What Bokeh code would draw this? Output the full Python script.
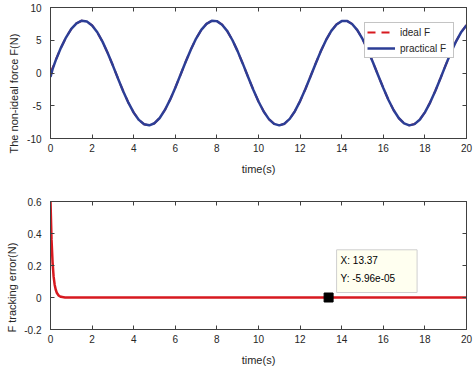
from bokeh.plotting import figure
from bokeh.layouts import column
from bokeh.models import (Range1d, FixedTicker, LinearAxis, Legend, LegendItem,
                          Label, CustomJSTickFormatter, Title)
from bokeh.embed import file_html
from bokeh.resources import INLINE

# ---------------- data ----------------
t = [0, 0.1, 0.25, 0.5, 0.75, 1, 1.25, 1.5, 1.75, 2, 2.25, 2.5, 2.75, 3, 3.25, 3.5, 3.75,
     4, 4.25, 4.5, 4.75, 5, 5.25, 5.5, 5.75, 6, 6.25, 6.5, 6.75, 7, 7.25, 7.5, 7.75,
     8, 8.25, 8.5, 8.75, 9, 9.25, 9.5, 9.75, 10, 10.25, 10.5, 10.75, 11, 11.25, 11.5, 11.75,
     12, 12.25, 12.5, 12.75, 13, 13.25, 13.5, 13.75, 14, 14.25, 14.5, 14.75, 15, 15.25, 15.5, 15.75,
     16, 16.25, 16.5, 16.75, 17, 17.25, 17.5, 17.75, 18, 18.25, 18.5, 18.75, 19, 19.25, 19.5, 19.75, 20]
ideal_F = [0, 0.80, 1.98, 3.84, 5.45, 6.73, 7.59, 7.98, 7.87, 7.27, 6.22, 4.79, 3.05, 1.13, -0.87, -2.81, -4.57,
           -6.05, -7.16, -7.82, -7.99, -7.67, -6.87, -5.64, -4.07, -2.24, -0.27, 1.72, 3.60, 5.26, 6.58, 7.50, 7.96,
           7.92, 7.38, 6.39, 5.00, 3.30, 1.39, -0.60, -2.56, -4.35, -5.88, -7.04, -7.76, -8.00, -7.74, -7.00, -5.83,
           -4.29, -2.49, -0.53, 1.46, 3.36, 5.05, 6.43, 7.41, 7.92, 7.95, 7.48, 6.54, 5.20, 3.54, 1.65, -0.34,
           -2.30, -4.13, -5.69, -6.91, -7.69, -8.00, -7.80, -7.13, -6.01, -4.51, -2.74, -0.80, 1.20, 3.12, 4.84, 6.27, 7.30]
practical_F = [-0.60, 0.58, 1.93, 3.84, 5.45, 6.73, 7.59, 7.98, 7.87, 7.27, 6.22, 4.79, 3.05, 1.13, -0.87, -2.81, -4.57,
               -6.05, -7.16, -7.82, -7.99, -7.67, -6.87, -5.64, -4.07, -2.24, -0.27, 1.72, 3.60, 5.26, 6.58, 7.50, 7.96,
               7.92, 7.38, 6.39, 5.00, 3.30, 1.39, -0.60, -2.56, -4.35, -5.88, -7.04, -7.76, -8.00, -7.74, -7.00, -5.83,
               -4.29, -2.49, -0.53, 1.46, 3.36, 5.05, 6.43, 7.41, 7.92, 7.95, 7.48, 6.54, 5.20, 3.54, 1.65, -0.34,
               -2.30, -4.13, -5.69, -6.91, -7.69, -8.00, -7.80, -7.13, -6.01, -4.51, -2.74, -0.80, 1.20, 3.12, 4.84, 6.27, 7.30]

t_err = [0, 0.05, 0.1, 0.15, 0.2, 0.25, 0.3, 0.4, 0.5, 0.7, 1.0, 20]
err = [0.6, 0.36, 0.22, 0.13, 0.08, 0.05, 0.03, 0.011, 0.004, 0.0005, 0.0, 0.0]

tip_x = 13.37
tip_y = -5.96e-05
tip_text = "X: 13.37\nY: -5.96e-05"

x_ticks = [0, 2, 4, 6, 8, 10, 12, 14, 16, 18, 20]
x_tick_labels = ["0", "2", "4", "6", "8", "10", "12", "14", "16", "18", "20"]
y1_ticks = [-10, -5, 0, 5, 10]
y1_tick_labels = ["-10", "-5", "0", "5", "10"]
y2_ticks = [-0.2, 0, 0.2, 0.4, 0.6]
y2_tick_labels = ["-0.2", "0", "0.2", "0.4", "0.6"]

x_label = "time(s)"
y1_label = "The non-ideal force F(N)"
y2_label = "F tracking error(N)"
legend_labels = ["ideal F", "practical F"]

# ---------------- styling ----------------
FONT = "Liberation Sans"
TXT = "#262626"
AX = "#404040"
BLUE = "#2c3e96"
RED = "#d7191f"


def style_axes(p, xt, xl, yt, yl, xlab, ylab, ylab_standoff, ytick_standoff, ylab_shift):
    p.xaxis.ticker = FixedTicker(ticks=xt)
    p.xaxis.major_label_overrides = dict(zip(xt, xl))
    p.yaxis.ticker = FixedTicker(ticks=yt)
    p.yaxis.major_label_overrides = dict(zip(yt, yl))
    p.xaxis.axis_label = xlab
    for ax in (p.xaxis[0], p.yaxis[0]):
        ax.axis_line_color = AX
        ax.major_tick_line_color = AX
        ax.major_tick_in = 4
        ax.major_tick_out = 0
        ax.minor_tick_line_color = None
        ax.major_label_text_font = FONT
        ax.major_label_text_font_size = "10px"
        ax.major_label_text_color = TXT
        ax.axis_label_text_font = FONT
        ax.axis_label_text_font_size = "11px"
        ax.axis_label_text_font_style = "normal"
        ax.axis_label_text_color = TXT
    p.xaxis.major_label_standoff = 5
    p.xaxis.axis_label_standoff = 8
    p.yaxis.major_label_standoff = ytick_standoff
    # y label as a side title, anchored at its lower end (it sits below the frame centre)
    ttl = Title(text=ylab, align="left", offset=ylab_shift, standoff=ylab_standoff,
                text_font=FONT, text_font_size="11px", text_font_style="normal",
                text_color=TXT)
    p.add_layout(ttl, "left")
    empty = CustomJSTickFormatter(code="return ''")
    top = LinearAxis(ticker=FixedTicker(ticks=xt), formatter=empty,
                     major_tick_in=4, major_tick_out=0, minor_tick_line_color=None,
                     axis_line_color=AX, major_tick_line_color=AX,
                     major_label_text_font_size="0px", major_label_standoff=0)
    right = LinearAxis(ticker=FixedTicker(ticks=yt), formatter=empty,
                       major_tick_in=4, major_tick_out=0, minor_tick_line_color=None,
                       axis_line_color=AX, major_tick_line_color=AX,
                       major_label_text_font_size="0px", major_label_standoff=0)
    p.add_layout(top, "above")
    p.add_layout(right, "right")
    p.xgrid.grid_line_color = None
    p.ygrid.grid_line_color = None
    p.outline_line_color = AX


# ---------------- top plot ----------------
p1 = figure(width=474, height=185, output_backend="svg", toolbar_location=None,
            x_range=Range1d(0, 20), y_range=Range1d(-10, 10),
            min_border_left=48, min_border_right=8, min_border_top=7, min_border_bottom=47)
style_axes(p1, x_ticks, x_tick_labels, y1_ticks, y1_tick_labels, x_label, y1_label, 9, 9, -15)

r_ideal = p1.line(t, ideal_F, line_color=RED, line_width=2, line_dash="8 6")
r_prac = p1.line(t, practical_F, line_color=BLUE, line_width=2.5)

legend = Legend(items=[LegendItem(label=legend_labels[0], renderers=[r_ideal]),
                       LegendItem(label=legend_labels[1], renderers=[r_prac])],
                location=(314, 80))
legend.label_text_font = FONT
legend.label_text_font_size = "10px"
legend.label_text_color = TXT
legend.glyph_width = 28
legend.glyph_height = 14
legend.label_height = 14
legend.label_width = 51
legend.label_standoff = 5
legend.padding = 2
legend.spacing = 2
legend.margin = 0
legend.border_line_color = "#8a8a8a"
legend.border_line_width = 1
legend.background_fill_color = "white"
legend.background_fill_alpha = 1
p1.add_layout(legend)

# ---------------- bottom plot ----------------
p2 = figure(width=474, height=185, output_backend="svg", toolbar_location=None,
            x_range=Range1d(0, 20), y_range=Range1d(-0.2, 0.6),
            min_border_left=48, min_border_right=8, min_border_top=16, min_border_bottom=41)
style_axes(p2, x_ticks, x_tick_labels, y2_ticks, y2_tick_labels, x_label, y2_label, 7, 9, -3)

p2.line(t_err, err, line_color=RED, line_width=2.5)
p2.scatter([tip_x], [tip_y], marker="square", size=9, fill_color="black", line_color="black")

tip = Label(x=tip_x, y=tip_y, text=tip_text, x_offset=8, y_offset=5, anchor="bottom_left",
            text_font=FONT, text_font_size="10px", text_color="black", text_line_height=1.7,
            background_fill_color="#fffff0", border_line_color="#cfcfcf", border_line_width=1,
            padding=dict(left=4, right=22, top=5, bottom=8))
p2.add_layout(tip)

layout = column(p1, p2, spacing=0)

open("out.html", "w").write(file_html(layout, INLINE))
